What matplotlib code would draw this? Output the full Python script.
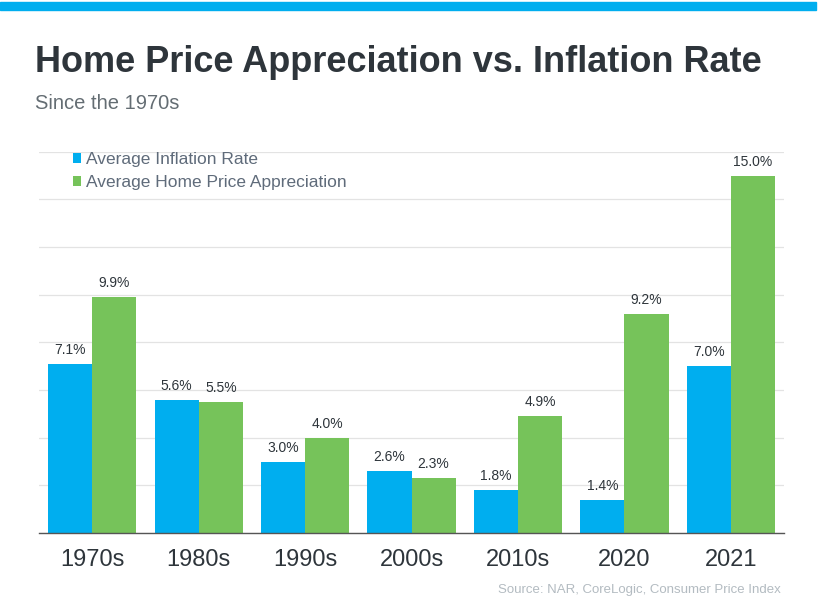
import matplotlib.pyplot as plt
import numpy as np

categories = ["1970s", "1980s", "1990s", "2000s", "2010s", "2020", "2021"]
inflation = [7.1, 5.6, 3.0, 2.6, 1.8, 1.4, 7.0]
home_price = [9.9, 5.5, 4.0, 2.3, 4.9, 9.2, 15.0]

blue = "#00aeef"
green = "#76c35a"
dark = "#2e353b"

plt.rcParams['font.family'] = ['Liberation Sans', 'DejaVu Sans']

fig = plt.figure(figsize=(8.2, 6.05), dpi=100)

# top accent bar
fig.patches.append(plt.Rectangle((0, 0.983), 0.995, 0.014, transform=fig.transFigure,
                                 color=blue, zorder=0))

fig.text(0.043, 0.897, "Home Price Appreciation vs. Inflation Rate", fontsize=26,
         fontweight="bold", color=dark, va="center", ha="left")
fig.text(0.043, 0.829, "Since the 1970s", fontsize=14.5, color="#646d73", va="center", ha="left")

ax = fig.add_axes([0.0476, 0.119, 0.9085, 0.630])
x = np.arange(len(categories))
w = 0.415
b1 = ax.bar(x - w / 2, inflation, w, color=blue, label="Average Inflation Rate", zorder=2)
b2 = ax.bar(x + w / 2, home_price, w, color=green, label="Average Home Price Appreciation", zorder=2)

for bars, vals in [(b1, inflation), (b2, home_price)]:
    for r, v in zip(bars, vals):
        ax.annotate(f"{v:.1f}%", (r.get_x() + r.get_width() / 2, v), xytext=(0, 5),
                    textcoords="offset points", ha="center", va="bottom", fontsize=10, color=dark)

ax.set_xlim(-0.5, 6.5)
ax.set_ylim(0, 16)
ax.set_yticks(np.arange(0, 17, 2))
ax.yaxis.grid(True, color="#e3e3e3", linewidth=0.9, zorder=0)
ax.tick_params(axis="y", left=False, labelleft=False)
ax.set_xticks(x)
ax.set_xticklabels(categories, fontsize=17, color=dark)
ax.tick_params(axis="x", bottom=False, pad=8)
for s in ["top", "right", "left"]:
    ax.spines[s].set_visible(False)
ax.spines["bottom"].set_color("#555555")
ax.spines["bottom"].set_linewidth(1)

leg = ax.legend(loc="upper left", bbox_to_anchor=(0.024, 1.04), frameon=False, fontsize=12.5,
                handlelength=0.5, handleheight=0.5, handletextpad=0.3, labelspacing=0.45,
                labelcolor="#5f6b7a")

fig.text(0.952, 0.024, "Source: NAR, CoreLogic, Consumer Price Index", fontsize=9.5,
         color="#b3bbc1", ha="right", va="center")

fig.savefig("out.png", dpi=100)
